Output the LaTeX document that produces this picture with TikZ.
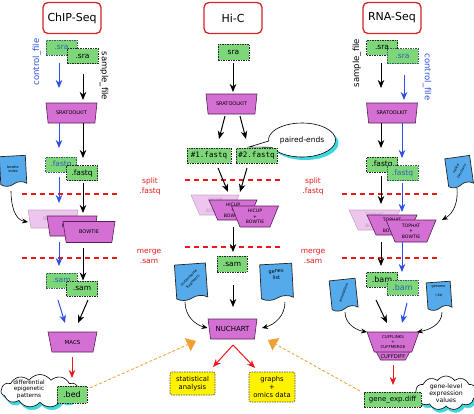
\documentclass[tikz,border=0pt]{standalone}
\usepackage{fontspec}
\setmainfont{DejaVu Sans}
\newfontfamily\monofam{DejaVu Sans Mono}
\usepackage{graphicx}
\usetikzlibrary{shapes.geometric,shapes.symbols,shapes.callouts,arrows.meta,calc}
\newcommand{\myfs}[2]{\fontsize{#1}{#2}\selectfont}
\definecolor{boxgreen}{RGB}{125,214,120}
\definecolor{ctlblue}{RGB}{45,95,190}
\definecolor{ctlborder}{RGB}{60,90,110}
\definecolor{arrblue}{RGB}{45,80,225}
\definecolor{trapfill}{RGB}{212,112,212}
\definecolor{trapdraw}{RGB}{90,30,90}
\definecolor{fadefill}{RGB}{236,198,236}
\definecolor{fadedraw}{RGB}{205,165,205}
\definecolor{fadetext}{RGB}{195,150,195}
\definecolor{docblue}{RGB}{85,170,235}
\definecolor{splitred}{RGB}{235,25,25}
\definecolor{orangearr}{RGB}{240,160,50}
\definecolor{hdrred}{RGB}{215,35,35}
\definecolor{cloudcyan}{RGB}{60,215,225}
\begin{document}
\begin{tikzpicture}[x=1pt,y=-1pt,
  hdr/.style={draw=hdrred, line width=1.3pt, rounded corners=5pt, fill=white, minimum width=58pt, minimum height=31pt, inner sep=0pt, font=\myfs{11}{13}},
  smp/.style={draw=black!85, dash pattern=on 1.5pt off 1pt, line width=0.6pt, fill=boxgreen, minimum width=31pt, minimum height=15pt, inner sep=0pt, font=\myfs{7.5}{9}},
  ctl/.style={smp, draw=ctlborder, text=ctlblue},
  trapbox/.style={trapezium, trapezium angle=70, shape border rotate=180, trapezium stretches=true, minimum width=50pt, minimum height=20pt, inner sep=0pt, draw=trapdraw, line width=0.6pt, fill=trapfill, font=\myfs{5}{5.5}, align=center},
  fade/.style={trapbox, draw=fadedraw, fill=fadefill, text=fadetext},
  doc/.style={tape, tape bend top=none, tape bend bottom=in and out, tape bend height=4pt, draw=black!85, line width=0.7pt, fill=docblue, inner sep=0pt, font=\myfs{3.4}{4.1}, align=center},
  ybox/.style={draw=black!70, dash pattern=on 1.5pt off 1pt, line width=0.6pt, fill=yellow, rounded corners=2pt, inner sep=0pt, font=\myfs{6.8}{8}, align=center},
  arr/.style={-{Stealth[length=8pt,width=6.5pt,inset=2.5pt]}, line width=1pt},
  barr/.style={arr, draw=arrblue},
  rarr/.style={arr, draw=splitred},
  carr/.style={-{Stealth[length=6pt,width=5pt,inset=2pt]}, line width=0.6pt},
  splitline/.style={draw=splitred, line width=2pt, dash pattern=on 5pt off 4pt},
  splitlbl/.style={text=splitred, font=\myfs{7.5}{10}, align=center},
  oarr/.style={draw=orangearr, line width=0.8pt, dash pattern=on 3pt off 2pt, -{Triangle[length=9pt,width=14pt]}},
  cloudbox/.style={cloud, cloud puffs=11, cloud puff arc=110, cloud ignores aspect, draw=black, line width=0.6pt, fill=white, inner sep=0pt},
  cloudshadow/.style={cloud, cloud puffs=11, cloud puff arc=110, cloud ignores aspect, draw=cloudcyan, fill=cloudcyan, inner sep=0pt},
  rottxt/.style={font=\myfs{8.5}{10}}
]
\fill[white] (0,0) rectangle (474,413);
\useasboundingbox (0,0) rectangle (474,413);

% headers
\node[hdr] (hChip) at (72,18) {ChIP-Seq};
\node[hdr] (hHic) at (233,18) {Hi-C};
\node[hdr] (hRna) at (392,18) {RNA-Seq};

% split / merge lines and labels
\draw[splitline] (22,194) -- (120,194);
\draw[splitline] (185,180) -- (282,180);
\draw[splitline] (342,194) -- (441,194);
\draw[splitline] (22,258) -- (120,258);
\draw[splitline] (185,247) -- (282,247);
\draw[splitline] (342,258) -- (441,258);
\node[splitlbl] (spL) at (150,186) {split\\.fastq};
\node[splitlbl] (mgL) at (149,256) {merge\\.sam};
\node[splitlbl] (spR) at (313,186) {split\\.fastq};
\node[splitlbl] (mgR) at (313,256) {merge\\.sam};

% ================= ChIP-Seq
\node[rottxt, rotate=90, text=arrblue] (ctlTxtL) at (37,62) {control\_file};
\node[rottxt, rotate=-90] (smpTxtL) at (104,76) {sample\_file};
\node[ctl] (cSra) at (61.5,47.5) {.sra};
\node[smp] (sSra) at (82.5,56) {.sra};
\node[trapbox, minimum width=51pt] (sk1) at (71.5,113) {SRATOOLKIT};
\node[ctl] (cFq) at (61,164.5) {.fastq};
\node[smp] (sFq) at (82,173) {.fastq};
\node[doc, minimum width=26pt, minimum height=30pt, rotate=3] (bidx) at (13,169) {bowtie\\index};
\node[fade, minimum height=18pt] (b1) at (53,219) {BOWTIE};
\node[trapbox] (b2) at (72,226) {BOWTIE};
\node[trapbox, minimum width=52pt, minimum height=21pt] (b3) at (89,232) {BOWTIE};
\node[ctl] (cSam) at (61.5,280.5) {.sam};
\node[smp] (sSam) at (82,288.5) {.sam};
\node[trapbox, minimum width=49pt, font=\myfs{5.5}{6}] (macs) at (72.5,342) {MACS};

\node[cloudshadow, minimum width=78pt, minimum height=33pt] (diffSh) at (42,394) {};
\node[cloudbox, minimum width=78pt, minimum height=33pt] (diff) at (40,391) {};
\node[font=\myfs{5.8}{6.6}, align=center] (diffTxt) at (29,389) {differential\\epigenetic\\patterns};
\node[smp, minimum width=30pt, minimum height=17pt, font=\myfs{8}{9}] (bed) at (72,394.5) {.bed};

\draw[barr] ($(cSra)+(-2.5,15.5)$) -- ($(sk1)+(-12.5,-25)$);
\draw[arr] ($(sSra)+(0.5,18)$) -- ($(sk1)+(11.5,-13)$);
\draw[barr] ($(sk1)+(-12.5,10)$) -- ($(cFq)+(-2,-16.5)$);
\draw[arr] ($(sk1)+(11.5,10)$) -- ($(sFq)+(1,-15)$);
\draw[barr] ($(cFq)+(-2,12.5)$) -- ($(b2)+(-13,-23)$);
\draw[arr] ($(sFq)+(1,10)$) -- ($(b3)+(-6,-19)$);
\draw[carr] ($(bidx)+(-2,22)$) to[out=-90,in=170] ($(b1)+(-25,3)$);
\draw[barr] ($(b2)+(-13,16)$) -- ($(cSam)+(-2.5,-14.5)$);
\draw[arr] ($(b3)+(-6,16)$) -- ($(sSam)+(1,-8)$);
\draw[barr] ($(cSam)+(-3.5,19.5)$) -- ($(macs)+(-7.5,-19)$);
\draw[arr] ($(sSam)+(6,11.5)$) -- ($(macs)+(5.5,-19)$);
\draw[rarr] ($(macs)+(-0.5,15)$) -- ($(bed)+(0,-16.5)$);

% ================= Hi-C
\node[smp, minimum height=16pt] (hSra) at (233.5,52) {sra};
\node[trapbox, minimum width=51pt] (sk2) at (231.5,104) {SRATOOLKIT};
\node[ellipse, fill=cloudcyan, minimum width=67pt, minimum height=34pt] (peSh) at (305,143) {};
\node[ellipse callout, draw=black, line width=0.6pt, fill=white, minimum width=67pt, minimum height=34pt, inner sep=0pt, font=\myfs{7.5}{9}, callout absolute pointer={(249,147)}, callout pointer arc=22] (pe) at (302,140) {paired-ends};
\node[smp, minimum width=44pt, font=\monofam\myfs{7.5}{9}] (f1) at (209,155.5) {\#1.fastq};
\node[smp, minimum width=41pt, font=\monofam\myfs{7.5}{9}] (f2) at (256.5,155.5) {\#2.fastq};
\node[fade, minimum width=48pt, font=\myfs{4.6}{5.4}] (h1) at (215,205) {HICUP\\+\\BOWTIE};
\node[trapbox, minimum width=48pt, font=\myfs{4.6}{5.4}] (h2) at (233,210) {HICUP\\+\\BOWTIE};
\node[trapbox, minimum width=47pt, minimum height=21pt, font=\myfs{4.6}{5.4}] (h3) at (255,216.5) {HICUP\\+\\BOWTIE};
\node[smp, minimum width=30pt, minimum height=16pt] (hSam) at (232,264) {.sam};
\node[doc, minimum width=31pt, minimum height=36pt, rotate=4] (chrom) at (191,280) {\rotatebox{42}{\shortstack{chromosome\\fragments}}};
\node[doc, minimum width=32pt, minimum height=36pt, rotate=3, font=\myfs{5}{6.5}] (genes) at (276.5,280) {genes\\list\\[4pt]};
\node[trapbox, minimum width=49pt, font=\myfs{7}{8}] (nuc) at (232.5,329) {NUCHART};
\node[ybox, minimum width=45pt, minimum height=23pt] (stat) at (192.5,383.5) {statistical\\analysis};
\node[ybox, minimum width=46pt, minimum height=30pt] (graphs) at (272,387) {graphs\\+\\omics data};

\draw[arr] ($(hSra)+(-0.5,11)$) -- ($(sk2)+(1.5,-12)$);
\draw[arr] ($(sk2)+(-6.5,12)$) -- ($(f1)+(10,-16.5)$);
\draw[arr] ($(sk2)+(8.5,12)$) -- ($(f2)+(-10.5,-16.5)$);
\draw[arr] ($(f1)+(9,12.5)$) -- ($(h2)+(-5,-18)$);
\draw[arr] ($(f2)+(-9.5,12.5)$) -- ($(h2)+(7,-18)$);
\draw[arr] ($(h2)+(0,17)$) -- ($(hSam)+(1,-12)$);
\draw[arr] ($(hSam)+(1,21)$) -- ($(nuc)+(0.5,-22)$);
\draw[carr] ($(chrom)+(-6,22)$) to[out=-90,in=165] ($(nuc)+(-25,-1)$);
\draw[carr] ($(genes)+(8.5,22)$) to[out=-90,in=15] ($(nuc)+(29.5,-1)$);
\draw[rarr] ($(nuc)+(0.5,16)$) -- ($(stat)+(20.5,-16.5)$);
\draw[rarr] ($(nuc)+(0.5,16)$) -- ($(graphs)+(-17,-19)$);

% ================= RNA-Seq
\node[rottxt, rotate=90] (smpTxtR) at (357,63) {sample\_file};
\node[rottxt, rotate=-90, text=arrblue] (ctlTxtR) at (427,77) {control\_file};
\node[smp] (rS) at (382,47.5) {.sra};
\node[ctl] (rC) at (402.5,56) {.sra};
\node[trapbox, minimum width=51pt] (sk3) at (392,113) {SRATOOLKIT};
\node[smp] (rFqS) at (382,164.5) {.fastq};
\node[ctl] (rFqC) at (402.5,173) {.fastq};
\node[doc, minimum width=25pt, minimum height=30pt, rotate=8] (splice) at (459,170) {\rotatebox{52}{\shortstack{splice\\junctions}}};
\node[fade, minimum width=51pt, font=\myfs{4.6}{5.4}] (t1) at (374.5,220) {TOPHAT\\+\\BOWTIE};
\node[trapbox, font=\myfs{4.6}{5.4}] (t2) at (392,225) {TOPHAT\\+\\BOWTIE};
\node[trapbox, minimum height=22pt, font=\myfs{4.6}{5.4}] (t3) at (411,231) {TOPHAT\\+\\BOWTIE};
\node[smp, font=\myfs{8}{9}] (bamS) at (382,279.5) {.bam};
\node[ctl, font=\myfs{8}{9}] (bamC) at (402.5,287.5) {.bam};
\node[doc, minimum width=26pt, minimum height=31pt, rotate=6] (annot) at (343.5,293) {\rotatebox{64}{annotations}};
\node[doc, minimum width=24pt, minimum height=28pt, rotate=4] (genome) at (439,294) {genome\\[5pt](.fa)\\[2pt]};
\node[trapbox, minimum width=44pt, minimum height=18pt] (cuff2) at (393,351) {\phantom{X}};
\node[font=\myfs{5.2}{6}] (cuffdiffTxt) at (393,356.5) {CUFFDIFF};
\node[trapbox, minimum width=52pt, font=\myfs{4}{5}] (cuff1) at (393,342) {CUFFLINKS\\+\\CUFFMERGE};
\node[cloudshadow, minimum width=62pt, minimum height=34pt] (geneSh) at (448,396) {};
\node[cloudbox, minimum width=62pt, minimum height=34pt, font=\myfs{6.2}{7}, align=center] (gene) at (446,393) {gene-level\\expression\\values};
\node[smp, minimum width=57pt, font=\myfs{7}{8}] (gexp) at (392.5,399.5) {gene\_exp.diff};

\draw[arr] ($(rS)+(-1,15.5)$) -- ($(sk3)+(-11,-25)$);
\draw[barr] ($(rC)+(1.5,19)$) -- ($(sk3)+(12,-13)$);
\draw[arr] ($(sk3)+(-11,10)$) -- ($(rFqS)+(-1,-16.5)$);
\draw[barr] ($(sk3)+(10,10)$) -- ($(rFqC)+(-0.5,-15)$);
\draw[arr] ($(rFqS)+(-1,11.5)$) -- ($(t2)+(-11,-21)$);
\draw[barr] ($(rFqC)+(-0.5,10)$) -- ($(t3)+(-9,-19)$);
\draw[carr] ($(splice)+(-2,18)$) to[out=-85,in=30] ($(t3)+(31,-11)$);
\draw[arr] ($(t2)+(-11,17)$) -- ($(bamS)+(-1,-13.5)$);
\draw[barr] ($(t3)+(-9,11)$) -- ($(bamC)+(-0.5,-15.5)$);
\draw[arr] ($(bamS)+(-6,20.5)$) -- ($(cuff1)+(-6,-19)$);
\draw[barr] ($(bamC)+(4.5,15.5)$) -- ($(cuff1)+(9,-19)$);
\draw[carr] ($(annot)+(1.5,19)$) to[out=-90,in=170] ($(cuff1)+(-26,-10)$);
\draw[carr] ($(genome)+(3,18)$) to[out=-90,in=10] ($(cuff1)+(24,-10)$);
\draw[rarr] ($(cuff2)+(0,14)$) -- ($(gexp)+(0.5,-14.5)$);

% ================= dashed orange links
\draw[oarr] ($(bed)+(18,-6.5)$) -- ($(nuc)+(-36.5,12)$);
\draw[oarr] ($(gexp)+(-32.5,-8.5)$) -- ($(nuc)+(35.5,11)$);
\end{tikzpicture}
\end{document}
